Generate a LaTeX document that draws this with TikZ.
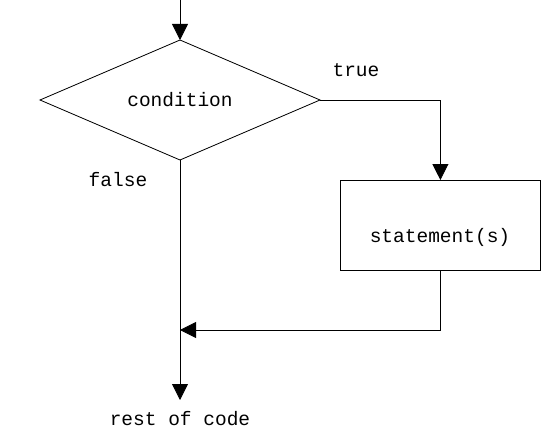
\documentclass[tikz,border=0pt]{standalone}
\usepackage{fontspec}
\setmonofont{Liberation Mono}
\usetikzlibrary{arrows.meta,shapes.geometric}
\begin{document}
\begin{tikzpicture}[x=1pt,y=-1pt,
  lbl/.style={font=\ttfamily\fontsize{19.5}{22}\selectfont, inner sep=0pt, anchor=base},
  line/.style={draw=black, line width=0.8pt},
  arr/.style={line, -{Triangle[length=16pt,width=16pt]}}]
\useasboundingbox (0,0) rectangle (544,444);
\coordinate (start) at (180,0);
\coordinate (dt) at (180,40);
\coordinate (db) at (180,160);
\coordinate (dl) at (40,100);
\coordinate (dr) at (320,100);
\draw[line] (dt) -- (dr) -- (db) -- (dl) -- cycle;
\node[lbl] (cond) at (180,106.5) {condition};
\node[draw, line width=0.8pt, minimum width=200pt, minimum height=90pt, anchor=north west, inner sep=0pt] (box) at (340,180) {};
\node[lbl] (stmt) at (440,242) {statement(s)};
\coordinate (join) at (180,330);
\coordinate (endp) at (180,400);
\node[lbl] (true) at (356,76.5) {true};
\node[lbl] (false) at (118,186.5) {false};
\node[lbl] (rest) at (180,425.5) {rest of code};
\draw[arr] (start) -- (dt);
\draw[arr] (dr) -| (box.north);
\draw[arr] (box.south) |- (join);
\draw[arr] (db) -- (endp);
\end{tikzpicture}
\end{document}
